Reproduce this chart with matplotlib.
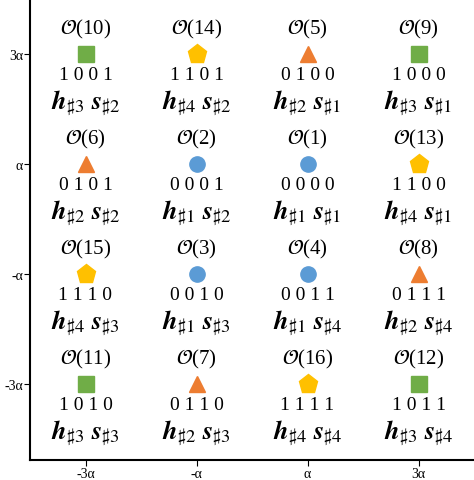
import matplotlib.pyplot as plt

plt.rcParams['mathtext.fontset'] = 'stix'
plt.rcParams['font.family'] = ['Liberation Serif', 'DejaVu Serif']

xs = [-3, -1, 1, 3]
ys = [3, 1, -1, -3]
# rows from top to bottom, columns from left to right
orders = [[10, 14, 5, 9], [6, 2, 1, 13], [15, 3, 4, 8], [11, 7, 16, 12]]
bits = [["1001", "1101", "0100", "1000"],
        ["0101", "0001", "0000", "1100"],
        ["1110", "0010", "0011", "0111"],
        ["1010", "0110", "1111", "1011"]]
hs = [[(3, 2), (4, 2), (2, 1), (3, 1)],
      [(2, 2), (1, 2), (1, 1), (4, 1)],
      [(4, 3), (1, 3), (1, 4), (2, 4)],
      [(3, 3), (2, 3), (4, 4), (3, 4)]]

styles = {1: ('o', '#5b9bd5', 11), 2: ('^', '#ed7d31', 11),
          3: ('s', '#70ad47', 11), 4: ('p', '#ffc000', 14)}

fig = plt.figure(figsize=(4.74, 4.81), dpi=100)
ax = fig.add_axes([30 / 474, 20 / 481, 444 / 474, 461 / 481])
ax.set_xlim(-4, 4)
ax.set_ylim(-4.38, 4)

for r, y in enumerate(ys):
    for c, x in enumerate(xs):
        h, s = hs[r][c]
        m, col, ms = styles[h]
        ax.plot(x, y, marker=m, color=col, markersize=ms, linestyle='none')
        ax.text(x, y + 0.25, r'$\mathcal{O}$(%d)' % orders[r][c], ha='center',
                va='bottom', fontsize=15)
        ax.text(x, y - 0.22, ' '.join(bits[r][c]), ha='center', va='top',
                fontsize=14)
        ax.text(x, y - 0.6, r'$\mathbfit{h}_{\sharp %d}\ \mathbfit{s}_{\sharp %d}$' % (h, s),
                ha='center', va='top', fontsize=19)

ax.spines['top'].set_visible(False)
ax.spines['right'].set_visible(False)
ax.spines['left'].set_linewidth(1.5)
ax.spines['bottom'].set_linewidth(1.5)
ax.set_xticks(xs, ['-3α', '-α', 'α', '3α'])
ax.set_yticks(ys, ['3α', 'α', '-α', '-3α'])
ax.tick_params(labelsize=10, length=4, pad=1)

fig.savefig('out.png', dpi=100)
